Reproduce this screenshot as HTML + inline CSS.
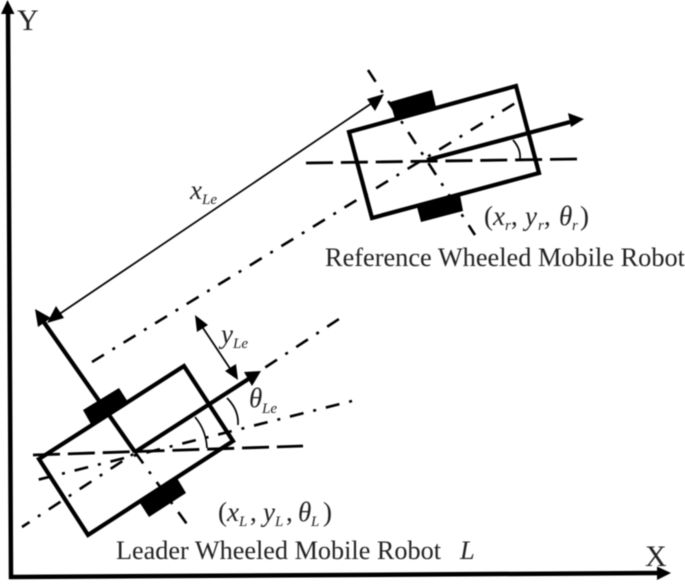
<!DOCTYPE html>
<html><head><meta charset="utf-8"><style>
html,body{margin:0;padding:0;background:#fff;width:685px;height:584px;overflow:hidden}
svg{display:block}
text{font-family:"Liberation Serif",serif;fill:#222}
.i{font-style:italic}
</style></head><body>
<svg width="685" height="584" viewBox="0 0 685 584" xmlns="http://www.w3.org/2000/svg">
<defs><filter id="b" x="-5%" y="-5%" width="110%" height="110%"><feGaussianBlur stdDeviation="0.45"/></filter></defs>
<g filter="url(#b)">
<!-- axes -->
<path d="M8 10 L11 577 L660 573" fill="none" stroke="#000" stroke-width="4.500"/>
<polygon points="7.500,0 1,14 14.500,14" fill="#000"/>
<polygon points="671,573 657,566.500 657,580" fill="#000"/>
<!-- dash-dot lines -->
<g fill="none" stroke="#000" stroke-width="2.600" stroke-dasharray="14 10 3 10">
<path d="M92 362 L517 102"/>
<path d="M368 70 L475 235"/>
<path d="M135 452 L189 527"/>
<path d="M22 527 L339 319" stroke-dashoffset="5"/>
<path d="M29 482 L352 401" stroke-dashoffset="27"/>
</g>
<!-- dashed -->
<g fill="none" stroke="#000" stroke-width="2.800" stroke-dasharray="27 7.860">
<path d="M306 163 L577 159"/>
<path d="M33 455 L303 446"/>
</g>
<!-- wheels -->
<polygon points="390,102 432,90 436,107 395,119" fill="#000"/>
<polygon points="417,207 460,195 463,211 421,222" fill="#000"/>
<polygon points="83,410 119,388 128,402 92,426" fill="#000"/>
<polygon points="140,503 177,478 186,493 149,517" fill="#000"/>
<!-- bodies -->
<polygon points="349,132 516,86 539,173 372,218" fill="none" stroke="#000" stroke-width="4.200"/>
<polygon points="39,459 184,366 233,441 88,535" fill="none" stroke="#000" stroke-width="4.200"/>
<!-- heading arrows -->
<g fill="none" stroke="#000" stroke-width="4.200">
<path d="M427 160 L570 122"/>
<path d="M135 452 L250 378"/>
<path d="M135 452 L43 321"/>
</g>
<polygon points="584,119 568,113 571,127" fill="#000"/>
<polygon points="261,371 244,372 252,386" fill="#000"/>
<polygon points="35,309 38,327 51,318" fill="#000"/>
<!-- measurement arrows -->
<g fill="none" stroke="#000" stroke-width="1.700">
<path d="M55 317 L375 101"/>
<path d="M199 322 L233 373"/>
<path d="M513 140 Q521 149 520 159"/>
<path d="M195 417 Q206 430 207 448"/>
<path d="M227 398 Q239 410 238 425"/>
</g>
<polygon points="384,94 367,99 375,111" fill="#000"/>
<polygon points="47,323 64,318 56,306" fill="#000"/>
<polygon points="195,315 197,332 208,325" fill="#000"/>
<polygon points="238,380 225,371 236,364" fill="#000"/>
</g>
<!-- labels -->
<g filter="url(#b)">
<text x="17" y="30" font-size="30">Y</text>
<text x="645" y="566" font-size="30">X</text>
<text x="190" y="199" font-size="27" class="i">x</text><text x="202" y="204" font-size="15" class="i">Le</text>
<text x="221" y="343" font-size="27" class="i">y</text><text x="233" y="348" font-size="15" class="i">Le</text>
<text x="249" y="407" font-size="27" class="i">θ</text><text x="262" y="413" font-size="15" class="i">Le</text>
<text x="484" y="225" font-size="27">(</text>
<text x="493" y="225" font-size="27" class="i">x</text><text x="505" y="230" font-size="15" class="i">r</text>
<text x="511" y="225" font-size="27">,</text>
<text x="525" y="225" font-size="27" class="i">y</text><text x="538" y="230" font-size="15" class="i">r</text>
<text x="544" y="225" font-size="27">,</text>
<text x="559" y="225" font-size="27" class="i">θ</text><text x="572" y="230" font-size="15" class="i">r</text>
<text x="580" y="225" font-size="27">)</text>
<text x="218" y="521" font-size="27">(</text>
<text x="227" y="521" font-size="27" class="i">x</text><text x="239" y="526" font-size="15" class="i">L</text>
<text x="250" y="521" font-size="27">,</text>
<text x="263" y="521" font-size="27" class="i">y</text><text x="275" y="526" font-size="15" class="i">L</text>
<text x="286" y="521" font-size="27">,</text>
<text x="298" y="521" font-size="27" class="i">θ</text><text x="311" y="526" font-size="15" class="i">L</text>
<text x="323" y="521" font-size="27">)</text>
<text x="325" y="266" font-size="26.500" textLength="360" lengthAdjust="spacingAndGlyphs">Reference Wheeled Mobile Robot</text>
<text x="116" y="559" font-size="26.500" textLength="325" lengthAdjust="spacingAndGlyphs">Leader Wheeled Mobile Robot</text>
<text x="460" y="559" font-size="26.500" class="i">L</text>
</g>
</svg>
</body></html>
